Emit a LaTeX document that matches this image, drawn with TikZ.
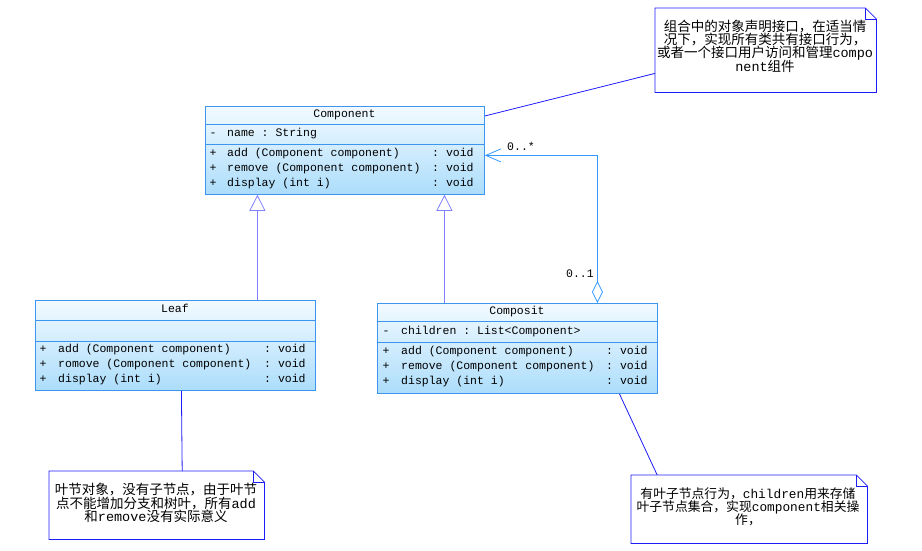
\documentclass[tikz,border=0pt]{standalone}
\usepackage{fontspec}
\setmonofont{Liberation Mono}
\newfontfamily\cjkfont{Noto Sans CJK SC}
\usetikzlibrary{arrows.meta}
\definecolor{classedge}{HTML}{3C96F0}
\definecolor{classtop}{HTML}{F2FAFF}
\definecolor{classbot}{HTML}{ACDDFB}
\definecolor{inheritblue}{HTML}{8080FF}
\definecolor{noteblue}{HTML}{1C1CF8}
\definecolor{aggblue}{HTML}{3399FF}
\newcommand{\notefont}{\cjkfont\fontsize{13.5}{13.3}\selectfont\lineskiplimit=-10pt\relax}
\newcommand{\smallnotefont}{\cjkfont\fontsize{12.8}{12.8}\selectfont\lineskiplimit=-10pt\relax}
\newcommand{\notefold}[1]{%
  \draw[noteedge] (#1.north west) -- ([xshift=-11pt]#1.north east) -- ([yshift=-11pt]#1.north east) -- (#1.south east) -- (#1.south west) -- cycle;
  \draw[noteedge] ([xshift=-11pt]#1.north east) -- ([xshift=-11pt,yshift=-11pt]#1.north east) -- ([yshift=-11pt]#1.north east);
}
\newcommand{\oprow}[6]{%
  \node[member, anchor=center] (#1s) at (#2,#4) {+};
  \node[member] (#1) at (#3,#4) {#6};
  \node[member] (#1v) at (#5,#4) {: void};
}
\tikzset{
  classbox/.style={draw=classedge, line width=0.8pt, top color=classtop, bottom color=classbot, inner sep=0pt, minimum width=280pt, anchor=north west},
  divider/.style={classedge, line width=0.8pt},
  member/.style={font=\ttfamily\fontsize{11.5}{13}\selectfont, inner sep=0pt, text height=8pt, text depth=2.5pt, anchor=west},
  notearea/.style={inner sep=0pt, anchor=north west},
  noteedge/.style={draw=noteblue, line width=0.8pt},
  notetext/.style={font=\notefont, align=center, inner sep=0pt},
  noteline/.style={noteblue, line width=0.8pt},
  inherit/.style={inheritblue, line width=0.8pt, -{Triangle[fill=white, length=16pt, width=16pt]}},
  aggregate/.style={aggblue, line width=0.8pt, {Diamond[fill=white, length=22pt, width=11pt]}-{Straight Barb[length=15pt, width=13pt]}}
}
\begin{document}
\begin{tikzpicture}[x=1pt,y=-1pt]
  \useasboundingbox (0,0) rectangle (922,550);
  % Component
  \node[classbox, minimum width=279pt, minimum height=88pt] (component) at (205,106) {};
  \draw[divider] ([yshift=-18pt]component.north west) -- ([yshift=-18pt]component.north east);
  \draw[divider] ([yshift=-38pt]component.north west) -- ([yshift=-38pt]component.north east);
  \node[member, anchor=center] (component-name) at (344.5,115) {Component};
  \node[member, anchor=center] (component-as) at (213,134) {-};
  \node[member] (component-attr) at (227,134) {name : String};
  \oprow{component-op1}{213}{227}{154}{432}{add (Component component)}
  \oprow{component-op2}{213}{227}{169}{432}{remove (Component component)}
  \oprow{component-op3}{213}{227}{184}{432}{display (int i)}
  % Leaf
  \node[classbox, minimum height=90pt] (leaf) at (35,300) {};
  \draw[divider] ([yshift=-20pt]leaf.north west) -- ([yshift=-20pt]leaf.north east);
  \draw[divider] ([yshift=-41pt]leaf.north west) -- ([yshift=-41pt]leaf.north east);
  \node[member, anchor=center] (leaf-name) at (175,310) {Leaf};
  \oprow{leaf-op1}{43}{58}{350}{264}{add (Component component)}
  \oprow{leaf-op2}{43}{58}{365}{264}{romove (Component component)}
  \oprow{leaf-op3}{43}{58}{380}{264}{display (int i)}
  % Composit
  \node[classbox, minimum height=90pt] (composit) at (377,303) {};
  \draw[divider] ([yshift=-18pt]composit.north west) -- ([yshift=-18pt]composit.north east);
  \draw[divider] ([yshift=-39pt]composit.north west) -- ([yshift=-39pt]composit.north east);
  \node[member, anchor=center] (composit-name) at (517,312) {Composit};
  \node[member, anchor=center] (composit-as) at (386,332) {-};
  \node[member] (composit-attr) at (401,332) {children : List<Component>};
  \oprow{composit-op1}{386}{401}{352}{606}{add (Component component)}
  \oprow{composit-op2}{386}{401}{367}{606}{remove (Component component)}
  \oprow{composit-op3}{386}{401}{382}{606}{display (int i)}
  % notes
  \node[notearea, minimum width=221pt, minimum height=84pt] (note1) at (655,8) {};
  \notefold{note1}
  \node[notetext] (note1-text) at (765,46) {组合中的对象声明接口，在适当情\\况下，实现所有类共有接口行为，\\或者一个接口用户访问和管理{\ttfamily compo}\\{\ttfamily nent}组件};
  \node[notearea, minimum width=215pt, minimum height=68pt] (note2) at (49,471) {};
  \notefold{note2}
  \node[notetext] (note2-text) at (156,503) {叶节对象，没有子节点，由于叶节\\点不能增加分支和树叶，所有{\ttfamily add}\\和{\ttfamily remove}没有实际意义};
  \node[notearea, minimum width=236pt, minimum height=68pt] (note3) at (631,475) {};
  \notefold{note3}
  \node[notetext, font=\smallnotefont] (note3-text) at (748,507) {有叶子节点行为，{\ttfamily children}用来存储\\叶子节点集合，实现{\ttfamily component}相关操\\作，};
  % connectors
  \draw[noteline] ([yshift=19pt]note1.south west) -- ([yshift=-10pt]component.north east);
  \draw[noteline] ([xshift=6pt]leaf.south) -- ([xshift=25.5pt]note2.north);
  \draw[noteline] ([xshift=102pt]composit.south) -- ([xshift=-92pt]note3.north);
  \draw[inherit] ([xshift=82pt]leaf.north) -- ([xshift=82pt]leaf.north |- component.south);
  \draw[inherit] ([xshift=-73pt]composit.north) -- ([xshift=-73pt]composit.north |- component.south);
  \draw[aggregate] ([xshift=80pt]composit.north) |- ([yshift=-5pt]component.east);
  \node[member] (many) at (507,148) {0..*};
  \node[member, anchor=east] (one) at (594,275) {0..1};
\end{tikzpicture}
\end{document}
